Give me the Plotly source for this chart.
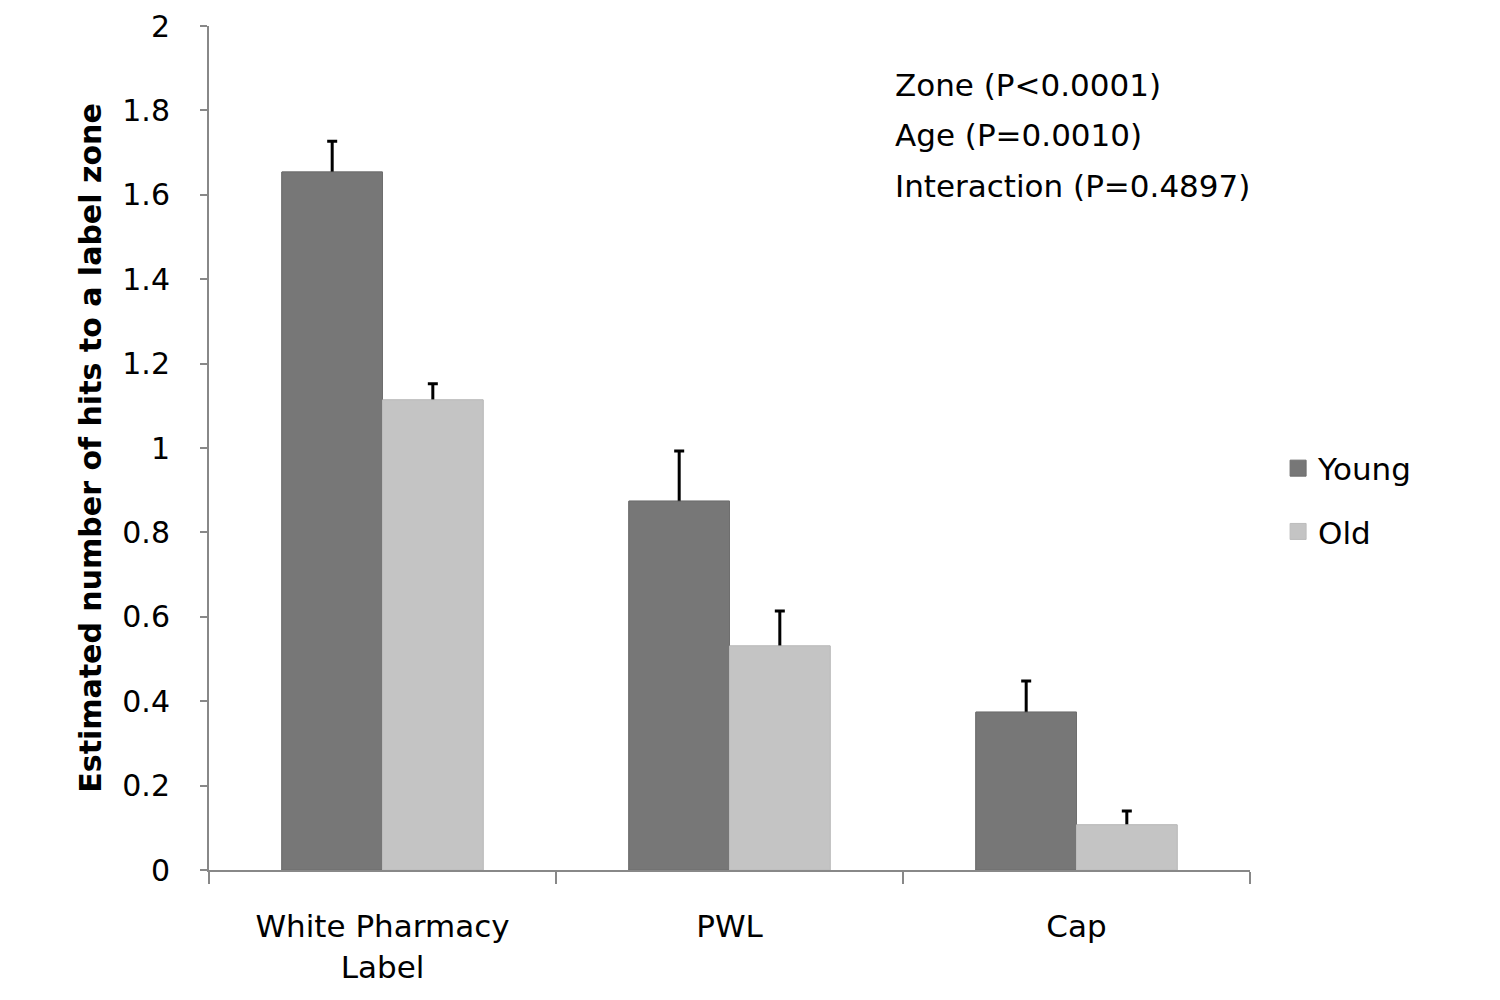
import plotly.graph_objects as go

categories = ["White Pharmacy<br>Label", "PWL", "Cap"]
young = [1.654, 0.874, 0.374]
young_err = [0.073, 0.119, 0.074]
old = [1.114, 0.531, 0.107]
old_err = [0.038, 0.083, 0.033]
y_ticks = [0, 0.2, 0.4, 0.6, 0.8, 1, 1.2, 1.4, 1.6, 1.8, 2]
y_tick_text = ["0", "0.2", "0.4", "0.6", "0.8", "1", "1.2", "1.4", "1.6", "1.8", "2"]
stats_lines = ["Zone (P<0.0001)", "Age (P=0.0010)", "Interaction (P=0.4897)"]
series_names = ["Young", "Old"]
colors = ["#777777", "#c4c4c4"]
line_colors = ["#6e6e6e", "#bcbcbc"]

font_family = "DejaVu Sans, Open Sans, sans-serif"

fig = go.Figure()
values = [young, old]
errors = [young_err, old_err]
# bars with error bars (symmetric), then identical bars on top to hide lower half
for name, vals, errs, col, lc in zip(series_names, values, errors, colors, line_colors):
    fig.add_trace(go.Bar(
        name=name, x=categories, y=vals, marker_color=col,
        marker_line_color=lc, marker_line_width=1, offsetgroup=name,
        error_y=dict(type="data", array=errs, color="black", thickness=3, width=5),
        showlegend=False,
    ))
for name, vals, col, lc in zip(series_names, values, colors, line_colors):
    fig.add_trace(go.Bar(
        name=name, x=categories, y=vals, marker_color=col,
        marker_line_color=lc, marker_line_width=1, offsetgroup=name,
        showlegend=False, hoverinfo="skip",
    ))
# legend entries
for i, (name, col) in enumerate(zip(series_names, colors)):
    fig.add_trace(go.Scatter(
        name=name, x=[None], y=[None], mode="markers",
        marker=dict(symbol="square", size=16, color=col, line=dict(color=line_colors[i], width=1)),
        legendgroup=name, showlegend=True,
    ))

plot_top_px, plot_bot_px = 18, 862
def py(px):
    return (plot_bot_px - px) / (plot_bot_px - plot_top_px)

annotations = []
for line, ypx in zip(stats_lines, [77, 127, 178]):
    annotations.append(dict(
        x=0.657, y=py(ypx), xref="paper", yref="paper", xanchor="left", yanchor="middle",
        align="left", showarrow=False, text=line, font=dict(size=31),
    ))

fig.update_layout(
    width=1500, height=1000,
    margin=dict(l=201, r=258, t=18, b=138, autoexpand=False),
    plot_bgcolor="white", paper_bgcolor="white",
    barmode="group", bargap=0.42, bargroupgap=0,
    font=dict(family=font_family, size=29, color="black"),
    legend=dict(x=1.027, y=py(492), xanchor="left", yanchor="middle",
                font=dict(size=31), tracegroupgap=20, traceorder="grouped"),
    annotations=annotations,
)
fig.update_yaxes(
    range=[0, 2], tickvals=y_ticks, ticktext=y_tick_text, automargin=False,
    showgrid=False, zeroline=False, showline=True, linecolor="#888888", linewidth=2,
    ticks="outside", ticklen=7, tickcolor="#888888", tickwidth=2,
    tickfont=dict(size=30), ticklabelstandoff=24,
    title=dict(text="<b>Estimated number of hits to a label zone</b>", font=dict(size=30), standoff=12),
)
fig.update_xaxes(
    showgrid=False, showline=True, linecolor="#888888", linewidth=2, automargin=False,
    ticks="outside", ticklen=12, tickcolor="#888888", tickwidth=2, tickson="boundaries",
    tickfont=dict(size=31), ticklabelstandoff=28,
)

fig.write_html("out.html")
